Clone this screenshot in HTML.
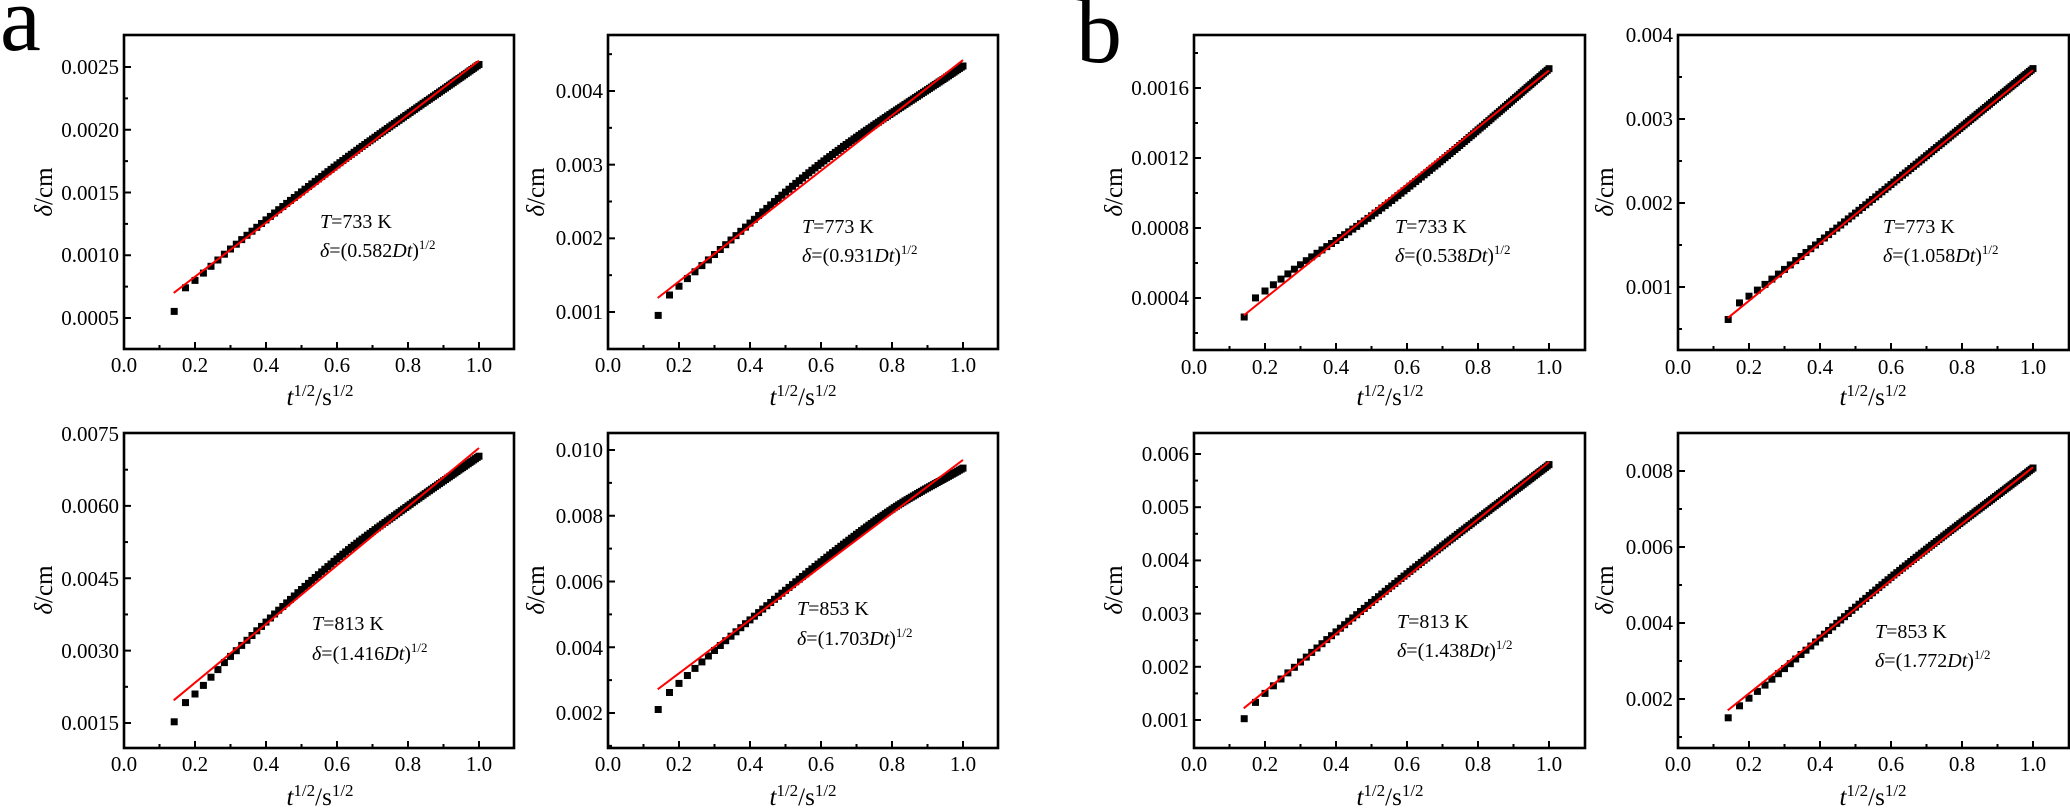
<!DOCTYPE html>
<html><head><meta charset="utf-8"><style>
html,body{margin:0;padding:0;background:#fff;}
svg{display:block;}
text{font-family:"Liberation Serif","Times New Roman","DejaVu Serif",serif;}
.tk{font-size:21px;}
.ax{font-size:25px;}
.an{font-size:20px;}
</style></head><body>
<svg id="s" width="2070" height="808" viewBox="0 0 2070 808" xmlns="http://www.w3.org/2000/svg" font-family="Liberation Serif, serif">
<g id="plots"></g>
<text x="0" y="50" font-size="92">a</text>
<text x="1076" y="62" font-size="92">b</text>

<!-- a1 -->
<g class="tk" text-anchor="end">
<text x="119" y="74">0.0025</text><text x="119" y="137">0.0020</text><text x="119" y="200">0.0015</text><text x="119" y="262">0.0010</text><text x="119" y="325">0.0005</text>
</g>
<g class="tk" text-anchor="middle">
<text x="124" y="372">0.0</text><text x="195" y="372">0.2</text><text x="266" y="372">0.4</text><text x="337" y="372">0.6</text><text x="408" y="372">0.8</text><text x="479" y="372">1.0</text>
</g>
<text class="ax" x="320" y="405" text-anchor="middle"><tspan font-style="italic">t</tspan><tspan font-size="17" dy="-9">1/2</tspan><tspan dy="9">/s</tspan><tspan font-size="17" dy="-9">1/2</tspan></text>
<text class="ax" transform="translate(52,192) rotate(-90)" text-anchor="middle"><tspan font-style="italic">δ</tspan>/cm</text>
<text class="an" x="320" y="228"><tspan font-style="italic">T</tspan>=733 K</text>
<text class="an" x="320" y="257"><tspan font-style="italic">δ</tspan>=(0.582<tspan font-style="italic">Dt</tspan>)<tspan font-size="13" dy="-8">1/2</tspan></text>

<!-- a2 -->
<g class="tk" text-anchor="end">
<text x="603" y="98">0.004</text><text x="603" y="172">0.003</text><text x="603" y="245">0.002</text><text x="603" y="319">0.001</text>
</g>
<g class="tk" text-anchor="middle">
<text x="608" y="372">0.0</text><text x="679" y="372">0.2</text><text x="750" y="372">0.4</text><text x="821" y="372">0.6</text><text x="892" y="372">0.8</text><text x="963" y="372">1.0</text>
</g>
<text class="ax" x="803" y="405" text-anchor="middle"><tspan font-style="italic">t</tspan><tspan font-size="17" dy="-9">1/2</tspan><tspan dy="9">/s</tspan><tspan font-size="17" dy="-9">1/2</tspan></text>
<text class="ax" transform="translate(544,192) rotate(-90)" text-anchor="middle"><tspan font-style="italic">δ</tspan>/cm</text>
<text class="an" x="802" y="233"><tspan font-style="italic">T</tspan>=773 K</text>
<text class="an" x="802" y="262"><tspan font-style="italic">δ</tspan>=(0.931<tspan font-style="italic">Dt</tspan>)<tspan font-size="13" dy="-8">1/2</tspan></text>

<!-- a3 -->
<g class="tk" text-anchor="end">
<text x="119" y="441">0.0075</text><text x="119" y="513">0.0060</text><text x="119" y="586">0.0045</text><text x="119" y="658">0.0030</text><text x="119" y="730">0.0015</text>
</g>
<g class="tk" text-anchor="middle">
<text x="124" y="771">0.0</text><text x="195" y="771">0.2</text><text x="266" y="771">0.4</text><text x="337" y="771">0.6</text><text x="408" y="771">0.8</text><text x="479" y="771">1.0</text>
</g>
<text class="ax" x="320" y="805" text-anchor="middle"><tspan font-style="italic">t</tspan><tspan font-size="17" dy="-9">1/2</tspan><tspan dy="9">/s</tspan><tspan font-size="17" dy="-9">1/2</tspan></text>
<text class="ax" transform="translate(52,590) rotate(-90)" text-anchor="middle"><tspan font-style="italic">δ</tspan>/cm</text>
<text class="an" x="312" y="630"><tspan font-style="italic">T</tspan>=813 K</text>
<text class="an" x="312" y="660"><tspan font-style="italic">δ</tspan>=(1.416<tspan font-style="italic">Dt</tspan>)<tspan font-size="13" dy="-8">1/2</tspan></text>

<!-- a4 -->
<g class="tk" text-anchor="end">
<text x="603" y="457">0.010</text><text x="603" y="523">0.008</text><text x="603" y="589">0.006</text><text x="603" y="655">0.004</text><text x="603" y="720">0.002</text>
</g>
<g class="tk" text-anchor="middle">
<text x="608" y="771">0.0</text><text x="679" y="771">0.2</text><text x="750" y="771">0.4</text><text x="821" y="771">0.6</text><text x="892" y="771">0.8</text><text x="963" y="771">1.0</text>
</g>
<text class="ax" x="803" y="805" text-anchor="middle"><tspan font-style="italic">t</tspan><tspan font-size="17" dy="-9">1/2</tspan><tspan dy="9">/s</tspan><tspan font-size="17" dy="-9">1/2</tspan></text>
<text class="ax" transform="translate(544,590) rotate(-90)" text-anchor="middle"><tspan font-style="italic">δ</tspan>/cm</text>
<text class="an" x="797" y="615"><tspan font-style="italic">T</tspan>=853 K</text>
<text class="an" x="797" y="645"><tspan font-style="italic">δ</tspan>=(1.703<tspan font-style="italic">Dt</tspan>)<tspan font-size="13" dy="-8">1/2</tspan></text>

<!-- b1 -->
<g class="tk" text-anchor="end">
<text x="1189" y="95">0.0016</text><text x="1189" y="165">0.0012</text><text x="1189" y="235">0.0008</text><text x="1189" y="305">0.0004</text>
</g>
<g class="tk" text-anchor="middle">
<text x="1194" y="374">0.0</text><text x="1265" y="374">0.2</text><text x="1336" y="374">0.4</text><text x="1407" y="374">0.6</text><text x="1478" y="374">0.8</text><text x="1549" y="374">1.0</text>
</g>
<text class="ax" x="1390" y="405" text-anchor="middle"><tspan font-style="italic">t</tspan><tspan font-size="17" dy="-9">1/2</tspan><tspan dy="9">/s</tspan><tspan font-size="17" dy="-9">1/2</tspan></text>
<text class="ax" transform="translate(1122,192) rotate(-90)" text-anchor="middle"><tspan font-style="italic">δ</tspan>/cm</text>
<text class="an" x="1395" y="233"><tspan font-style="italic">T</tspan>=733 K</text>
<text class="an" x="1395" y="262"><tspan font-style="italic">δ</tspan>=(0.538<tspan font-style="italic">Dt</tspan>)<tspan font-size="13" dy="-8">1/2</tspan></text>

<!-- b2 -->
<g class="tk" text-anchor="end">
<text x="1673" y="42">0.004</text><text x="1673" y="126">0.003</text><text x="1673" y="210">0.002</text><text x="1673" y="294">0.001</text>
</g>
<g class="tk" text-anchor="middle">
<text x="1678" y="374">0.0</text><text x="1749" y="374">0.2</text><text x="1820" y="374">0.4</text><text x="1891" y="374">0.6</text><text x="1962" y="374">0.8</text><text x="2033" y="374">1.0</text>
</g>
<text class="ax" x="1873" y="405" text-anchor="middle"><tspan font-style="italic">t</tspan><tspan font-size="17" dy="-9">1/2</tspan><tspan dy="9">/s</tspan><tspan font-size="17" dy="-9">1/2</tspan></text>
<text class="ax" transform="translate(1613,192) rotate(-90)" text-anchor="middle"><tspan font-style="italic">δ</tspan>/cm</text>
<text class="an" x="1883" y="233"><tspan font-style="italic">T</tspan>=773 K</text>
<text class="an" x="1883" y="262"><tspan font-style="italic">δ</tspan>=(1.058<tspan font-style="italic">Dt</tspan>)<tspan font-size="13" dy="-8">1/2</tspan></text>

<!-- b3 -->
<g class="tk" text-anchor="end">
<text x="1189" y="461">0.006</text><text x="1189" y="514">0.005</text><text x="1189" y="567">0.004</text><text x="1189" y="621">0.003</text><text x="1189" y="674">0.002</text><text x="1189" y="727">0.001</text>
</g>
<g class="tk" text-anchor="middle">
<text x="1194" y="771">0.0</text><text x="1265" y="771">0.2</text><text x="1336" y="771">0.4</text><text x="1407" y="771">0.6</text><text x="1478" y="771">0.8</text><text x="1549" y="771">1.0</text>
</g>
<text class="ax" x="1390" y="805" text-anchor="middle"><tspan font-style="italic">t</tspan><tspan font-size="17" dy="-9">1/2</tspan><tspan dy="9">/s</tspan><tspan font-size="17" dy="-9">1/2</tspan></text>
<text class="ax" transform="translate(1122,590) rotate(-90)" text-anchor="middle"><tspan font-style="italic">δ</tspan>/cm</text>
<text class="an" x="1397" y="628"><tspan font-style="italic">T</tspan>=813 K</text>
<text class="an" x="1397" y="657"><tspan font-style="italic">δ</tspan>=(1.438<tspan font-style="italic">Dt</tspan>)<tspan font-size="13" dy="-8">1/2</tspan></text>

<!-- b4 -->
<g class="tk" text-anchor="end">
<text x="1673" y="478">0.008</text><text x="1673" y="554">0.006</text><text x="1673" y="630">0.004</text><text x="1673" y="706">0.002</text>
</g>
<g class="tk" text-anchor="middle">
<text x="1678" y="771">0.0</text><text x="1749" y="771">0.2</text><text x="1820" y="771">0.4</text><text x="1891" y="771">0.6</text><text x="1962" y="771">0.8</text><text x="2033" y="771">1.0</text>
</g>
<text class="ax" x="1873" y="805" text-anchor="middle"><tspan font-style="italic">t</tspan><tspan font-size="17" dy="-9">1/2</tspan><tspan dy="9">/s</tspan><tspan font-size="17" dy="-9">1/2</tspan></text>
<text class="ax" transform="translate(1613,590) rotate(-90)" text-anchor="middle"><tspan font-style="italic">δ</tspan>/cm</text>
<text class="an" x="1875" y="638"><tspan font-style="italic">T</tspan>=853 K</text>
<text class="an" x="1875" y="667"><tspan font-style="italic">δ</tspan>=(1.772<tspan font-style="italic">Dt</tspan>)<tspan font-size="13" dy="-8">1/2</tspan></text>
</svg>
<script>
var P=[
{L:124,R:514,T:35,B:349,yr:0.0025,yp:67,k:125500,maj:0.0005,red:[0.0007,0.00255],d:[[0.141,0.00055],[0.173,0.00074],[0.2,0.0008],[0.3,0.00105],[0.6,0.00172],[1,0.00252]]},
{L:608,R:998,T:35,B:349,yr:0.004,yp:91,k:73667,maj:0.001,red:[0.00119,0.00442],d:[[0.141,0.00095],[0.173,0.00123],[0.2,0.00135],[0.3,0.00178],[0.6,0.00302],[1,0.00434]]},
{L:124,R:514,T:433,B:748,yr:0.0075,yp:433.5,k:48250,maj:0.0015,red:[0.00197,0.0072],d:[[0.141,0.00152],[0.173,0.00192],[0.2,0.0021],[0.3,0.00288],[0.6,0.0049],[0.8,0.006],[1,0.00703]]},
{L:608,R:998,T:433,B:748,yr:0.010,yp:450,k:32875,maj:0.002,red:[0.00272,0.0097],d:[[0.141,0.0021],[0.173,0.00262],[0.2,0.0029],[0.3,0.0039],[0.6,0.0066],[0.8,0.0082],[1,0.00945]]},
{L:1194,R:1585,T:35,B:350,yr:0.0016,yp:88,k:175000,maj:0.0004,red:[0.0003,0.0017],d:[[0.141,0.00029],[0.173,0.0004],[0.2,0.00044],[0.3,0.00059],[0.5,0.00087],[0.7,0.00119],[1,0.00171]]},
{L:1678,R:2069,T:35,B:350,yr:0.004,yp:35,k:84000,maj:0.001,red:[0.00063,0.00358],d:[[0.141,0.00061],[0.173,0.00081],[0.2,0.00089],[0.3,0.00121],[0.6,0.00222],[1,0.0036]]},
{L:1194,R:1585,T:433,B:748,yr:0.006,yp:454,k:53200,maj:0.001,red:[0.00122,0.00585],d:[[0.141,0.00102],[0.173,0.00133],[0.2,0.0015],[0.3,0.00209],[0.6,0.00375],[1,0.0058]]},
{L:1678,R:2069,T:433,B:748,yr:0.008,yp:471,k:38000,maj:0.002,red:[0.0017,0.0081],d:[[0.141,0.0015],[0.173,0.00182],[0.2,0.00202],[0.3,0.0028],[0.6,0.0052],[1,0.00808]]}
];
var h='';
P.forEach(function(p){
 var sx=355,X=function(x){return p.L+x*sx},Y=function(v){return p.yp+(p.yr-v)*p.k};
 var d=p.d,n=d.length,m=[];
 for(var i=0;i<n;i++){
   if(i==0)m[i]=(d[1][1]-d[0][1])/(d[1][0]-d[0][0]);
   else if(i==n-1)m[i]=(d[n-1][1]-d[n-2][1])/(d[n-1][0]-d[n-2][0]);
   else{var a=(d[i][1]-d[i-1][1])/(d[i][0]-d[i-1][0]),b=(d[i+1][1]-d[i][1])/(d[i+1][0]-d[i][0]);m[i]=(a+b)/2;}
 }
 function interp(x){for(var i=0;i<n-1;i++){if(x<=d[i+1][0]+1e-9){var hh=d[i+1][0]-d[i][0],t=(x-d[i][0])/hh;var t2=t*t,t3=t2*t;
   return (2*t3-3*t2+1)*d[i][1]+(t3-2*t2+t)*hh*m[i]+(-2*t3+3*t2)*d[i+1][1]+(t3-t2)*hh*m[i+1];}}return d[n-1][1];}
 for(var t=0.02;t<=1.0001;t+=0.01){var x=Math.sqrt(t);h+='<rect x="'+(X(x)-3.5).toFixed(1)+'" y="'+(Y(interp(x))-3.5).toFixed(1)+'" width="7" height="7" fill="#000"/>';}
 h+='<line x1="'+X(0.14)+'" y1="'+Y(p.red[0])+'" x2="'+X(1)+'" y2="'+Y(p.red[1])+'" stroke="#ff0000" stroke-width="2"/>';
 for(var i=1;i<=10;i++){var xx=X(i*0.1);if(xx>=p.R-2)break;var len=(i%2==0)?7:4;h+='<line x1="'+xx+'" y1="'+p.B+'" x2="'+xx+'" y2="'+(p.B-len)+'" stroke="#000" stroke-width="2"/>';}
 var step=p.maj/2;
 for(var q=-40;q<40;q++){var v=p.yr+q*step;var yy=Y(v);if(yy<=p.T+2||yy>=p.B-2)continue;var len=(q%2==0)?7:4;h+='<line x1="'+p.L+'" y1="'+yy+'" x2="'+(p.L+len)+'" y2="'+yy+'" stroke="#000" stroke-width="2"/>';}
 h+='<rect x="'+p.L+'" y="'+p.T+'" width="'+(p.R-p.L)+'" height="'+(p.B-p.T)+'" fill="none" stroke="#000" stroke-width="2.6"/>';
});
document.getElementById('plots').innerHTML=h;
</script>
</body></html>
